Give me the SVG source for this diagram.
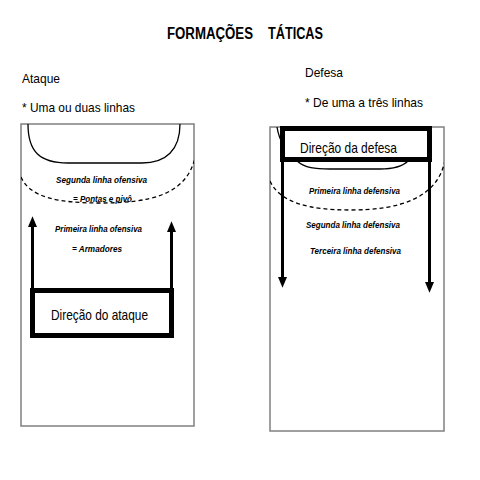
<svg xmlns="http://www.w3.org/2000/svg" width="480" height="480" viewBox="0 0 480 480">
<defs>
<style>
text{font-family:"Liberation Sans",Arial,sans-serif;fill:#000}
.title{font-size:16px;font-weight:bold}
.head{font-size:13px}
.lab{font-size:9.5px;font-weight:bold;font-style:italic}
.box{font-size:15px}
.court{fill:#fff;stroke:#808080;stroke-width:1.5}
.goal{fill:none;stroke:#000;stroke-width:1.3}
.dash{fill:none;stroke:#000;stroke-width:1.3;stroke-dasharray:4 3}
.thick{fill:#fff;stroke:#000;stroke-width:5}
.arrow{stroke:#000;stroke-width:3;fill:none}
</style>
<marker id="ah" viewBox="0 0 12 10" refX="0" refY="5" markerUnits="userSpaceOnUse" markerWidth="12" markerHeight="9" orient="auto">
<path d="M0,0 L12,5 L0,10 z" fill="#000"/>
</marker>
<clipPath id="cl"><rect x="21" y="124" width="173" height="302"/></clipPath>
<clipPath id="cr"><rect x="270" y="127" width="174" height="304"/></clipPath>
</defs>
<rect width="480" height="480" fill="#fff"/>

<g id="title">
<text class="title" x="167" y="39" textLength="86" lengthAdjust="spacingAndGlyphs">FORMAÇÕES</text>
<text class="title" x="268" y="39" textLength="55" lengthAdjust="spacingAndGlyphs">TÁTICAS</text>
</g>

<g id="headers">
<text class="head" x="22" y="83" textLength="38" lengthAdjust="spacingAndGlyphs">Ataque</text>
<text class="head" x="22" y="112" textLength="113" lengthAdjust="spacingAndGlyphs">* Uma ou duas linhas</text>
<text class="head" x="305" y="77" textLength="38" lengthAdjust="spacingAndGlyphs">Defesa</text>
<text class="head" x="305" y="107" textLength="118" lengthAdjust="spacingAndGlyphs">* De uma a três linhas</text>
</g>

<g id="court-attack">
<rect class="court" x="21" y="124" width="173" height="302"/>
<g clip-path="url(#cl)">
<path class="goal" d="M28,124 C28,152 40,163 68,163 L142,163 C166,163 180,150 180,124"/>
<path class="dash" d="M21,177 C30,198 60,203 100,203 C150,203 186,195 195,158"/>
</g>
<text class="lab" x="56" y="183" textLength="91" lengthAdjust="spacingAndGlyphs">Segunda linha ofensiva</text>
<text class="lab" x="73" y="202" textLength="59" lengthAdjust="spacingAndGlyphs">= Pontas e pivô</text>
<text class="lab" x="55" y="232" textLength="87" lengthAdjust="spacingAndGlyphs">Primeira linha ofensiva</text>
<text class="lab" x="72" y="252" textLength="50" lengthAdjust="spacingAndGlyphs">= Armadores</text>
</g>

<g id="court-defense">
<rect class="court" x="270" y="127" width="174" height="304"/>
<g clip-path="url(#cr)">
<path class="goal" d="M277,127 C279,140 286,152 297,161 C305,168 315,169 330,169 L380,169 C395,169 403,166 408,161 L415,150"/>
<path class="dash" d="M270,181 C280,203 310,210 350,210 C400,210 438,198 445,160"/>
</g>
<text class="lab" x="309" y="194" textLength="91" lengthAdjust="spacingAndGlyphs">Primeira linha defensiva</text>
<text class="lab" x="306" y="228" textLength="94" lengthAdjust="spacingAndGlyphs">Segunda linha defensiva</text>
<text class="lab" x="310" y="254" textLength="91" lengthAdjust="spacingAndGlyphs">Terceira linha defensiva</text>
</g>

<g id="connectors">
<line class="arrow" x1="32.5" y1="290" x2="32.5" y2="227" marker-end="url(#ah)"/>
<line class="arrow" x1="171.5" y1="290" x2="171.5" y2="232" marker-end="url(#ah)"/>
<line class="arrow" x1="282.5" y1="158" x2="282.5" y2="277" marker-end="url(#ah)"/>
<line class="arrow" x1="429.5" y1="158" x2="429.5" y2="282" marker-end="url(#ah)"/>
</g>

<g id="box-attack">
<rect class="thick" x="32.5" y="290.5" width="139" height="45"/>
<text class="box" x="51" y="320" textLength="97" lengthAdjust="spacingAndGlyphs">Direção do ataque</text>
</g>

<g id="box-defense">
<rect class="thick" x="282.5" y="128.5" width="147" height="31"/>
<text class="box" x="300" y="153" textLength="97" lengthAdjust="spacingAndGlyphs">Direção da defesa</text>
</g>
</svg>
